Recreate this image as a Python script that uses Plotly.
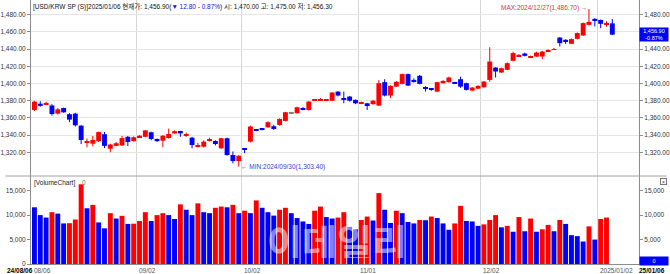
import plotly.graph_objects as go

# ---------------- data ----------------
aug = ["06", "07", "08", "09", "12", "13", "14", "16", "19", "20", "21", "22", "23", "26", "27", "28", "29", "30"]
sep = ["02", "03", "04", "05", "06", "09", "10", "11", "12", "13", "19", "20", "23", "24", "25", "26", "27", "30"]
oct_ = ["02", "04", "07", "08", "10", "11", "14", "15", "16", "17", "18", "21", "22", "23", "24", "25", "28", "29", "30", "31"]
nov = ["01", "04", "05", "06", "07", "08", "11", "12", "13", "14", "15", "18", "19", "20", "21", "22", "25", "26", "27", "28", "29"]
dec = ["02", "03", "04", "05", "06", "09", "10", "11", "12", "13", "16", "17", "18", "19", "20", "23", "24", "26", "27", "30"]
jan = ["02", "03", "06"]
dates = ([f"2024-08-{d}" for d in aug] + [f"2024-09-{d}" for d in sep] + [f"2024-10-{d}" for d in oct_]
         + [f"2024-11-{d}" for d in nov] + [f"2024-12-{d}" for d in dec] + [f"2025-01-{d}" for d in jan])

open_ = [
    1369.3, 1376.5, 1375.5, 1374.5, 1365.0, 1371.5, 1364.3, 1365.0, 1351.0, 1331.0,
    1330.0, 1333.0, 1341.0, 1324.2, 1327.5, 1328.0, 1338.0, 1333.0, 1337.5, 1338.0,
    1343.3, 1335.5, 1333.5, 1336.6, 1342.0, 1344.8, 1340.0, 1337.0, 1326.5, 1326.5,
    1333.2, 1333.2, 1324.6, 1336.3, 1316.8, 1309.8, 1324.0, 1332.4, 1346.4, 1347.5,
    1349.0, 1350.3, 1351.8, 1356.5, 1365.8, 1365.4, 1371.3, 1369.3, 1379.8, 1380.5,
    1380.0, 1380.0, 1390.6, 1383.0, 1384.8, 1381.0, 1376.3, 1377.0, 1376.0, 1374.3,
    1401.6, 1386.0, 1396.4, 1399.6, 1411.0, 1404.2, 1409.0, 1395.7, 1393.8, 1390.6,
    1400.4, 1401.6, 1401.6, 1405.0, 1400.4, 1391.8, 1394.0, 1395.7, 1404.2, 1418.6,
    1412.8, 1416.0, 1426.4, 1431.4, 1434.9, 1430.0, 1431.4, 1431.4, 1436.9, 1439.2,
    1453.5, 1450.9, 1446.2, 1452.0, 1455.9, 1468.3, 1475.3, 1474.0, 1468.5, 1470.0]
high = [
    1380.0, 1379.5, 1379.0, 1376.0, 1371.5, 1372.0, 1365.5, 1366.0, 1351.5, 1336.0,
    1339.0, 1344.0, 1343.6, 1330.0, 1332.0, 1339.0, 1339.0, 1338.5, 1340.0, 1346.0,
    1344.0, 1336.0, 1340.0, 1347.5, 1345.5, 1345.0, 1343.0, 1338.0, 1331.0, 1334.0,
    1337.0, 1334.0, 1337.0, 1337.0, 1321.0, 1316.5, 1324.2, 1351.0, 1347.0, 1348.0,
    1356.0, 1352.0, 1359.5, 1367.0, 1367.0, 1373.0, 1372.5, 1379.5, 1382.0, 1383.0,
    1382.0, 1390.0, 1391.0, 1390.6, 1385.5, 1381.5, 1379.0, 1377.5, 1381.0, 1404.0,
    1405.0, 1398.0, 1403.0, 1411.5, 1411.5, 1406.0, 1410.0, 1397.0, 1394.5, 1402.0,
    1404.0, 1408.0, 1402.0, 1408.0, 1401.0, 1396.0, 1398.0, 1403.0, 1442.3, 1419.0,
    1418.5, 1424.5, 1437.0, 1434.0, 1436.0, 1432.5, 1437.0, 1438.0, 1440.0, 1441.5,
    1454.0, 1451.5, 1452.5, 1459.5, 1471.0, 1486.7, 1476.0, 1474.5, 1472.5, 1475.0]
low = [
    1368.0, 1373.0, 1375.0, 1362.6, 1364.0, 1366.0, 1355.0, 1350.0, 1329.6, 1325.8,
    1327.0, 1332.0, 1325.0, 1320.0, 1327.0, 1327.5, 1327.3, 1332.5, 1337.0, 1337.5,
    1334.0, 1332.0, 1325.8, 1336.0, 1341.5, 1338.0, 1338.0, 1324.6, 1325.5, 1325.5,
    1332.5, 1328.0, 1324.0, 1316.0, 1307.2, 1303.4, 1319.0, 1331.5, 1344.5, 1345.5,
    1348.5, 1346.0, 1351.0, 1356.0, 1364.5, 1365.0, 1369.0, 1368.5, 1379.5, 1380.0,
    1379.5, 1379.5, 1385.0, 1377.0, 1379.0, 1376.0, 1376.0, 1369.3, 1375.5, 1374.0,
    1385.0, 1383.0, 1396.0, 1399.0, 1397.0, 1401.0, 1399.0, 1390.6, 1391.5, 1390.0,
    1400.0, 1401.0, 1399.5, 1395.0, 1392.0, 1391.0, 1393.5, 1395.0, 1402.0, 1407.0,
    1412.5, 1415.5, 1426.0, 1431.0, 1431.5, 1429.5, 1431.0, 1428.3, 1436.5, 1439.0,
    1443.0, 1446.0, 1446.0, 1451.5, 1455.5, 1467.5, 1466.4, 1464.5, 1466.0, 1456.3]
close = [
    1378.9, 1374.0, 1377.4, 1364.5, 1370.0, 1366.5, 1358.0, 1351.4, 1334.3, 1332.0,
    1334.4, 1343.5, 1327.5, 1329.0, 1330.5, 1336.5, 1332.0, 1337.5, 1339.3, 1345.5,
    1335.5, 1333.0, 1339.3, 1341.3, 1344.5, 1342.0, 1341.3, 1328.5, 1328.5, 1332.4,
    1334.7, 1329.6, 1336.3, 1316.8, 1309.8, 1316.0, 1323.5, 1350.0, 1344.8, 1346.4,
    1355.0, 1348.0, 1358.8, 1366.6, 1365.8, 1372.4, 1369.6, 1379.0, 1381.3, 1382.0,
    1381.0, 1389.5, 1386.0, 1381.7, 1380.0, 1377.0, 1378.2, 1375.0, 1380.0, 1400.4,
    1386.0, 1397.3, 1402.0, 1411.0, 1397.6, 1402.3, 1399.6, 1394.0, 1392.6, 1401.6,
    1403.0, 1407.0, 1400.4, 1396.4, 1392.6, 1395.3, 1397.3, 1402.3, 1425.6, 1414.0,
    1417.9, 1423.7, 1435.4, 1433.4, 1432.2, 1431.4, 1436.0, 1437.2, 1438.0, 1440.0,
    1447.0, 1449.3, 1451.7, 1458.7, 1470.3, 1471.8, 1473.0, 1469.5, 1469.7, 1456.9]
volume = [
    11600, 10000, 9500, 10600, 10300, 8300, 8350, 9100, 16300, 11400,
    12100, 8500, 7300, 10400, 9300, 9850, 8200, 8250, 8800, 10600,
    8800, 10000, 10400, 10000, 9200, 12200, 11100, 10000, 12400, 10600,
    10400, 11500, 11750, 11600, 12100, 10400, 10900, 10400, 13000, 11500,
    10600, 9900, 11100, 11500, 10400, 9400, 8700, 8200, 10900, 11750,
    9600, 9300, 9500, 10600, 7600, 7100, 9000, 9700, 8900, 14500,
    11100, 8400, 10900, 10400, 8600, 8300, 9000, 8950, 9700, 9400,
    8300, 7000, 8300, 11900, 8800, 8700, 7800, 8100, 9000, 10000,
    7500, 7800, 6600, 9600, 6700, 9300, 6600, 7100, 8000, 6700,
    9000, 8200, 5900, 5700, 4600, 7700, 5000, 9200, 9500, 0]

price_ticks_left = [1320, 1340, 1360, 1380, 1400, 1420, 1440, 1460, 1480]
price_ticks_right = [1320, 1340, 1360, 1380, 1400, 1420, 1440, 1480]  # 1,460 hidden under price box
volume_ticks_left = [0, 5000, 10000, 15000]
volume_ticks_right = [5000, 10000, 15000]
month_marks = ["2024-09-02", "2024-10-02", "2024-11-01", "2024-12-02", "2025-01-02"]
month_labels = ["09/02", "10/02", "11/01", "12/02", "2025/01/02"]
first_label, first_sub, last_label = "24/08/06", "08/06", "25/01/06"
title_name = "[USD/KRW SP (S)]"
prev_close = 1469.70

# ---------------- styling ----------------
RED, BLUE, GREY = "#ff0000", "#0000ff", "#808080"
FONT = "Liberation Sans, Arial, Noto Sans CJK KR, sans-serif"
FS = 6.5
AX = "#8c8c8c"

n = len(dates)
idx = list(range(n))

ccol = [RED if c > o else (BLUE if c < o else GREY) for o, c in zip(open_, close)]
min_h = 1.1
body_h = [max(abs(c - o), min_h) for o, c in zip(open_, close)]
body_b = [(o + c) / 2 - h / 2 for o, c, h in zip(open_, close, body_h)]
vcol = [BLUE] + [RED if volume[i] > volume[i - 1] else BLUE for i in range(1, n)]

fig = go.Figure()
for col in (RED, BLUE, GREY):
    wx, wy = [], []
    for i in idx:
        if ccol[i] == col:
            wx += [i, i, None]
            wy += [low[i], high[i], None]
    fig.add_trace(go.Scatter(x=wx, y=wy, mode="lines", line=dict(color=col, width=1),
                             xaxis="x", yaxis="y", hoverinfo="skip", showlegend=False))
fig.add_trace(go.Bar(x=idx, y=body_h, base=body_b, width=0.84,
                     marker=dict(color=ccol, line=dict(width=0)),
                     xaxis="x", yaxis="y", showlegend=False, hoverinfo="skip"))
fig.add_trace(go.Bar(x=idx, y=volume, width=0.84,
                     marker=dict(color=vcol, line=dict(width=0)),
                     xaxis="x", yaxis="y2", showlegend=False, hoverinfo="skip"))
fig.add_trace(go.Scatter(x=[idx[0]], y=[close[0]], mode="markers", marker=dict(opacity=0),
                         xaxis="x", yaxis="y3", showlegend=False, hoverinfo="skip"))
fig.add_trace(go.Scatter(x=[idx[0]], y=[0], mode="markers", marker=dict(opacity=0),
                         xaxis="x", yaxis="y4", showlegend=False, hoverinfo="skip"))

# geometry: plot area 26..642 px horizontally, 0..264 px vertically
L, R, T, B = 26, 28, 0, 10
PW, PH = 670 - L - R, 274 - T - B
split = (264 - 176) / PH
price_range = [1292.4, 1497.2]
vol_range = [0, 18000]
x_range = [-0.59, 103.57]

grid_pos = [dates.index(d) - 0.5 for d in month_marks]

tickfont = dict(family=FONT, size=FS, color="#333333")
common_y = dict(ticks="outside", ticklen=3, tickcolor=AX, showline=True, linecolor=AX,
                linewidth=1, zeroline=False, tickfont=tickfont)

fig.update_layout(
    width=670, height=274, margin=dict(l=L, r=R, t=T, b=B),
    paper_bgcolor="white", plot_bgcolor="white", barmode="overlay",
    showlegend=False, font=dict(family=FONT, size=FS),
    xaxis=dict(domain=[0, 1], range=x_range, anchor="y2", tickvals=grid_pos,
               showticklabels=False, ticks="", showgrid=True, gridcolor="#d6d6d6",
               gridwidth=1, showline=True, linecolor=AX, zeroline=False),
    yaxis=dict(domain=[split, 1], range=price_range, anchor="x", side="left",
               tickvals=price_ticks_left, tickformat=",.2f", showgrid=True, gridcolor="#e6e6e6",
               **common_y),
    yaxis2=dict(domain=[0, split], range=vol_range, anchor="x", side="left",
                tickvals=volume_ticks_left, tickformat=",d", showgrid=False, **common_y),
    yaxis3=dict(overlaying="y", range=price_range, anchor="x", side="right",
                tickvals=price_ticks_right, tickformat=",.2f", showgrid=False, **common_y),
    yaxis4=dict(overlaying="y2", range=vol_range, anchor="x", side="right",
                tickvals=volume_ticks_right, tickformat=",d", showgrid=False, **common_y),
)

# panel separator
fig.add_shape(type="line", xref="paper", yref="paper", x0=-L / PW, x1=(670 - L) / PW,
              y0=split, y1=split, line=dict(color="#a0a0a0", width=1))

ann = []
last = n - 1
chg = close[last] - prev_close
pct = chg / prev_close * 100
header = (f"{title_name}{dates[last].replace('-', '/')} 현재가: {close[last]:,.2f}("
          f"<span style='color:#1010e0'>▼ {abs(chg):.2f} - {abs(pct):.2f}%</span>) "
          f"시: {open_[last]:,.2f} 고: {high[last]:,.2f} 저: {low[last]:,.2f}")
ann.append(dict(x=0, y=1, xref="paper", yref="paper", xanchor="left", yanchor="top",
                text=header, showarrow=False, xshift=0, yshift=0,
                font=dict(family=FONT, size=FS, color="#111111")))

imax = high.index(max(high))
imin = low.index(min(low))
ann.append(dict(x=imax, y=high[imax], xref="x", yref="y", xanchor="right", yanchor="middle",
                text=f"MAX:{dates[imax].replace('-', '/')}({high[imax]:,.2f}) →", showarrow=False,
                xshift=0, yshift=1, font=dict(family=FONT, size=FS, color="#d03a3a")))
ann.append(dict(x=imin, y=low[imin], xref="x", yref="y", xanchor="left", yanchor="middle",
                text=f"← MIN:{dates[imin].replace('-', '/')}({low[imin]:,.2f})", showarrow=False,
                xshift=0, yshift=0, font=dict(family=FONT, size=FS, color="#3a3ad0")))

# current price box
ann.append(dict(x=1, y=close[last], xref="paper", yref="y", xanchor="left", yanchor="middle",
                text=f"{close[last]:,.2f}<br>{pct:.2f}%", showarrow=False, bgcolor=BLUE,
                width=26, height=11, borderpad=1, align="center",
                font=dict(family=FONT, size=5.5, color="white")))
ann.append(dict(x=1, y=volume[last], xref="paper", yref="y2", xanchor="left", yanchor="middle",
                text=f"{volume[last]:,d}", showarrow=False, bgcolor=BLUE, yshift=3,
                width=26, height=6, borderpad=1, align="center",
                font=dict(family=FONT, size=5.5, color="white")))

# volume panel labels
ann.append(dict(x=0, y=split, xref="paper", yref="paper", xanchor="left", yanchor="top",
                text="[VolumeChart]", showarrow=False, xshift=1, yshift=-1,
                font=dict(family=FONT, size=FS, color="#222222")))
ann.append(dict(x=0, y=split, xref="paper", yref="paper", xanchor="center", yanchor="top",
                text=f"{volume[last]:,d}", showarrow=False, xshift=53, yshift=-1,
                font=dict(family=FONT, size=FS, color="#2a9a2a")))
ann.append(dict(x=1, y=split, xref="paper", yref="paper", xanchor="center", yanchor="top",
                text="×", showarrow=False, xshift=24, yshift=-2, bordercolor="#777777",
                borderwidth=1, borderpad=0, width=5, height=5,
                font=dict(family=FONT, size=5, color="#333333")))

# date labels
ann.append(dict(x=-L / PW, y=0, xref="paper", yref="paper", xanchor="left", yanchor="top",
                text=f"<b>{first_label}</b>", showarrow=False, yshift=-1,
                font=dict(family=FONT, size=FS, color="#000000")))
ann.append(dict(x=(670 - L) / PW, y=0, xref="paper", yref="paper", xanchor="right", yanchor="top",
                text=f"<b>{last_label}</b>", showarrow=False, yshift=-1,
                font=dict(family=FONT, size=FS, color="#000000")))
ann.append(dict(x=-0.5, y=0, xref="x", yref="paper", xanchor="left", yanchor="top",
                text=first_sub, showarrow=False, yshift=-1,
                font=dict(family=FONT, size=FS, color="#555555")))
for pos, lab in zip(grid_pos, month_labels):
    ann.append(dict(x=pos, y=0, xref="x", yref="paper", xanchor="left", yanchor="top",
                    text=lab, showarrow=False, yshift=-1,
                    font=dict(family=FONT, size=FS, color="#555555")))

# watermark of the source
ann.append(dict(x=(336 - L) / PW, y=(264 - 240) / PH, xref="paper", yref="paper",
                xanchor="center", yanchor="middle", text="<b>이데일리</b>", showarrow=False,
                height=36, opacity=0.5,
                font=dict(family="Noto Sans CJK KR", size=38, color="white")))

fig.update_layout(annotations=ann)
fig.write_html("out.html")
